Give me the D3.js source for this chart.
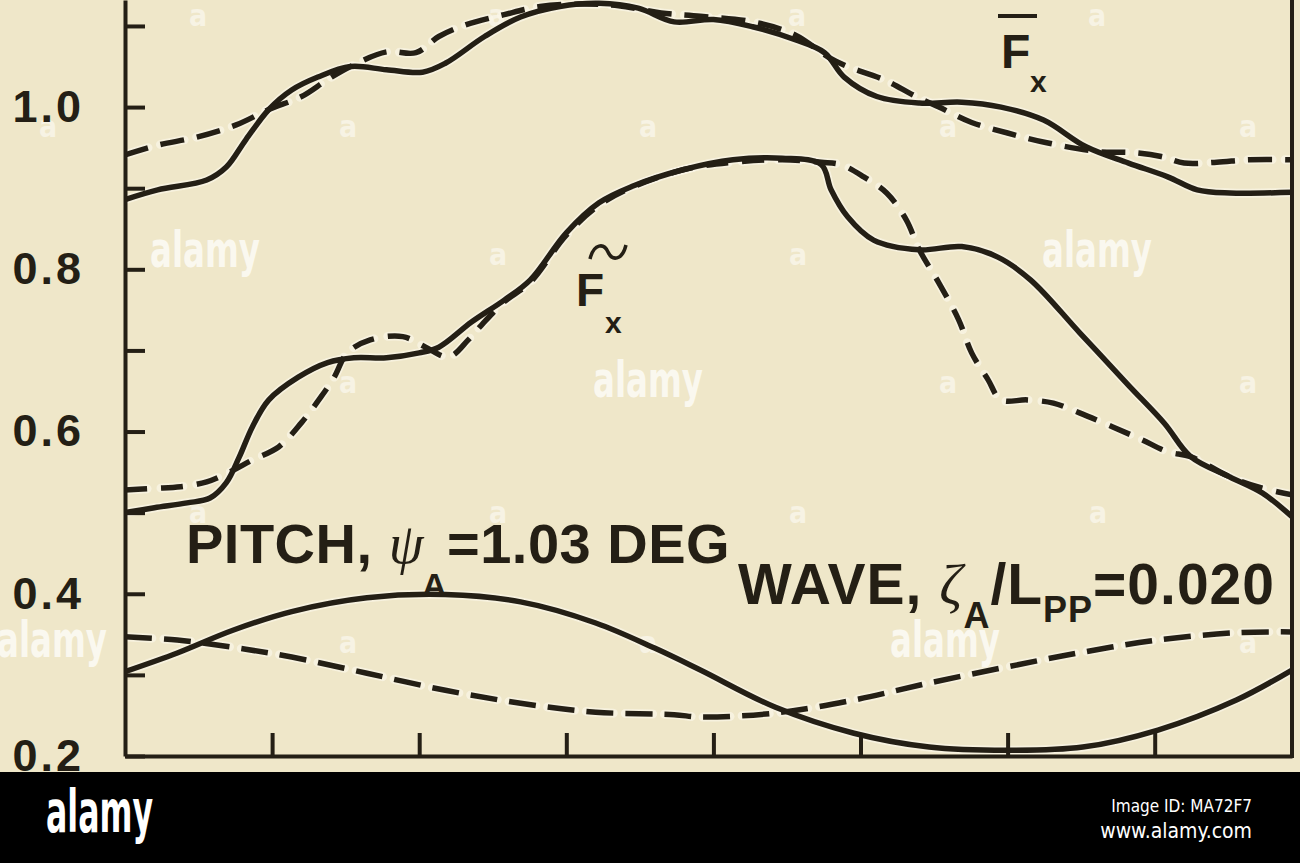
<!DOCTYPE html>
<html><head><meta charset="utf-8">
<script src="https://cdn.jsdelivr.net/npm/d3@7"></script>
<style>
html,body{margin:0;padding:0;background:#efe7c9;overflow:hidden}
svg{display:block}
</style></head><body>
<svg id="chart" width="1300" height="863"></svg>
<script>
// ---------------- DATA ----------------
// x: phase (deg), y: force ratio
const xTicks = [45, 90, 135, 180, 225, 270, 315];
const yTicks = [0.2, 0.3, 0.4, 0.5, 0.6, 0.7, 0.8, 0.9, 1.0, 1.1];
const yLabelTicks = [0.2, 0.4, 0.6, 0.8, 1.0];

const meanSolid = [[0,0.886],[10,0.898],[25,0.910],[31,0.926],[37,0.960],[44,0.997],[51,1.021],[59,1.037],[69,1.050],[80,1.046],[91,1.043],[98,1.054],[110,1.087],[121,1.111],[133,1.124],[145,1.128],[157,1.122],[168,1.105],[180,1.108],[192,1.099],[205,1.083],[214,1.067],[220,1.037],[230,1.013],[243,1.005],[256,1.006],[268,1.000],[281,0.984],[294,0.951],[307,0.931],[319,0.914],[328,0.898],[338,0.894],[357,0.895]];
const meanDashed = [[0,0.941],[10,0.953],[22,0.963],[34,0.978],[44,0.997],[54,1.013],[62,1.034],[69,1.050],[80,1.068],[89,1.067],[96,1.087],[104,1.101],[116,1.114],[127,1.124],[139,1.127],[151,1.125],[164,1.116],[176,1.112],[192,1.105],[205,1.089],[215,1.062],[221,1.050],[232,1.034],[242,1.013],[249,1.000],[259,0.981],[270,0.968],[282,0.956],[298,0.945],[308,0.944],[317,0.939],[324,0.931],[334,0.932],[344,0.935],[357,0.935]];
const ampSolid = [[0,0.500],[9,0.506],[19,0.512],[26,0.518],[31,0.537],[35,0.569],[39,0.606],[44,0.639],[53,0.667],[62,0.685],[70,0.691],[80,0.691],[90,0.697],[96,0.704],[106,0.735],[116,0.762],[124,0.787],[135,0.845],[145,0.882],[155,0.902],[171,0.923],[186,0.935],[201,0.937],[213,0.929],[216,0.898],[221,0.865],[229,0.836],[243,0.824],[256,0.828],[267,0.815],[277,0.787],[292,0.722],[307,0.657],[318,0.610],[326,0.569],[338,0.544],[348,0.524],[357,0.495]];
const ampDashed = [[0,0.528],[9,0.530],[17,0.532],[25,0.538],[32,0.550],[39,0.565],[47,0.581],[54,0.611],[60,0.643],[64,0.667],[68,0.697],[75,0.713],[85,0.717],[92,0.704],[99,0.692],[105,0.713],[109,0.731],[116,0.760],[124,0.784],[135,0.842],[145,0.879],[155,0.901],[171,0.923],[186,0.932],[201,0.935],[213,0.932],[219,0.929],[226,0.914],[233,0.894],[239,0.861],[243,0.824],[249,0.783],[255,0.738],[259,0.697],[264,0.664],[268,0.639],[276,0.639],[284,0.635],[292,0.623],[302,0.606],[311,0.590],[319,0.575],[326,0.569],[338,0.544],[348,0.530],[357,0.522]];
const pitch = [[0,0.304],[16,0.327],[33,0.355],[51,0.378],[74,0.395],[98,0.399],[121,0.390],[144,0.364],[162,0.333],[176,0.306],[199,0.260],[223,0.228],[246,0.211],[270,0.207],[293,0.211],[316,0.232],[340,0.269],[357,0.306]];
const wave = [[0,0.347],[16,0.343],[33,0.334],[51,0.322],[74,0.302],[98,0.281],[121,0.265],[144,0.254],[168,0.251],[176,0.248],[199,0.253],[223,0.269],[246,0.290],[270,0.310],[293,0.328],[316,0.343],[340,0.352],[357,0.353]];

const X_END = 357, Y_TOP = 1.132;

// ---------------- DRAW ----------------
const ink = "#241f15";
const svg = d3.select("#chart");
const x = d3.scaleLinear().domain([0, X_END]).range([125, 1292]);
const y = d3.scaleLinear().domain([0.2, Y_TOP]).range([756, 0]);

svg.append("rect").attr("width",1300).attr("height",863).attr("fill","#efe7c9");

svg.append("defs").append("clipPath").attr("id","plot")
  .append("rect").attr("x",x(0)).attr("y",0).attr("width",x(X_END)-x(0)).attr("height",y(0.2));

// watermarks (under the ink)
const narrow = "'Liberation Sans Narrow','DejaVu Sans Condensed',sans-serif";
const smallA = [[198,0],[497,0],[797,0],[1097,0],[48,127],[348,127],[648,127],[948,127],[1248,127],
  [498,255],[798,255],[348,383],[948,383],[1248,383],[198,513],[498,513],[798,513],[1098,513],
  [348,643],[648,643],[1248,643]];
svg.selectAll("text.wa").data(smallA).enter().append("text").attr("class","wa")
  .attr("x",d=>d[0]).attr("y",d=>Math.max(d[1]+10, 26)).attr("text-anchor","middle")
  .attr("font-family",narrow).attr("font-weight","bold").attr("font-size",30)
  .attr("fill","#ffffff").attr("fill-opacity",0.5).text("a");

const line = d3.line().x(d=>x(d[0])).y(d=>y(d[1])).curve(d3.curveCatmullRom.alpha(0.5));
const gL = svg.append("g").attr("clip-path","url(#plot)");
const series = [
  {d: meanSolid, dash: null},
  {d: meanDashed, dash: "24,13"},
  {d: ampSolid, dash: null},
  {d: ampDashed, dash: "22,14"},
  {d: pitch, dash: null},
  {d: wave, dash: "27,12"}
];
series.forEach(s=>{
  gL.append("path").attr("d", line(s.d)).attr("fill","none")
    .attr("stroke","#fbf7e8").attr("stroke-width",9).attr("stroke-opacity",0.7)
    .attr("stroke-dasharray", s.dash).attr("stroke-linecap","round");
});
series.forEach(s=>{
  gL.append("path").attr("d", line(s.d)).attr("fill","none")
    .attr("stroke",ink).attr("stroke-width",5.5)
    .attr("stroke-dasharray", s.dash).attr("stroke-linejoin","round");
});

// axes
const fmt = d3.format(".1f");
const isLabel = v => yLabelTicks.some(t => Math.abs(t - v) < 1e-6);
const gy = svg.append("g").attr("transform","translate(125,0)")
  .call(d3.axisLeft(y).tickValues(yTicks).tickSizeInner(-20).tickSizeOuter(0).tickPadding(41)
    .tickFormat(v => isLabel(v) ? fmt(v) : ""));
gy.selectAll("path,line").attr("stroke",ink).attr("stroke-width",4);
gy.selectAll("text").attr("fill",ink).attr("font-family","'Liberation Sans',Arial,sans-serif")
  .attr("font-weight","bold").attr("font-size",45).attr("letter-spacing",3);

const gx = svg.append("g").attr("transform","translate(0,756)")
  .call(d3.axisBottom(x).tickValues(xTicks).tickSizeInner(-23).tickSizeOuter(0).tickFormat(""));
gx.selectAll("path,line").attr("stroke",ink).attr("stroke-width",4);

svg.append("line").attr("x1",x(X_END)).attr("x2",x(X_END)).attr("y1",0).attr("y2",y(0.2)+2)
  .attr("stroke",ink).attr("stroke-width",4);

// big watermarks over the ink
const bigW = [[205,255],[648,385],[1097,255],[52,645],[945,645]];
svg.selectAll("text.wb").data(bigW).enter().append("text").attr("class","wb")
  .attr("x",d=>d[0]-55).attr("y",d=>d[1]+12)
  .attr("font-family",narrow).attr("font-weight","bold").attr("font-size",50)
  .attr("textLength",110).attr("lengthAdjust","spacingAndGlyphs")
  .attr("fill","#ffffff").attr("fill-opacity",0.72).text("alamy");

// labels
const sans = "'Liberation Sans',Arial,Helvetica,sans-serif";
const t1 = svg.append("text").attr("x",186).attr("y",563).attr("fill",ink)
  .attr("font-family",sans).attr("font-weight","bold").attr("font-size",56).attr("letter-spacing",0.5);
t1.append("tspan").text("PITCH, ");
t1.append("tspan").attr("font-family","'Liberation Serif',serif").attr("font-style","italic").attr("font-weight","normal").text("ψ");
t1.append("tspan").attr("font-size",34).attr("dy",34).attr("dx",-2).text("A");
t1.append("tspan").attr("dy",-34).text("=1.03 DEG");

const t2 = svg.append("text").attr("x",738).attr("y",604).attr("fill",ink)
  .attr("font-family",sans).attr("font-weight","bold").attr("font-size",57).attr("letter-spacing",1);
t2.append("tspan").text("WAVE, ");
t2.append("tspan").attr("font-family","'Liberation Serif',serif").attr("font-style","italic").attr("font-weight","normal").text("ζ");
t2.append("tspan").attr("font-size",36).attr("dy",24).text("A");
t2.append("tspan").attr("dy",-24).text("/L");
t2.append("tspan").attr("font-size",36).attr("dy",18).text("PP");
t2.append("tspan").attr("dy",-18).text("=0.020");

// F-bar x
svg.append("text").attr("x",1001).attr("y",68).attr("fill",ink).attr("font-family",sans)
  .attr("font-weight","bold").attr("font-size",48).text("F");
svg.append("line").attr("x1",998).attr("x2",1037).attr("y1",16).attr("y2",16).attr("stroke",ink).attr("stroke-width",4);
svg.append("text").attr("x",1030).attr("y",92).attr("fill",ink).attr("font-family",sans)
  .attr("font-weight","bold").attr("font-size",30).text("x");

// F-tilde x
svg.append("text").attr("x",576).attr("y",306).attr("fill",ink).attr("font-family",sans)
  .attr("font-weight","bold").attr("font-size",46).text("F");
svg.append("path").attr("d","M590,259 C594,243 604,243 608,252 C612,261 622,261 626,245")
  .attr("fill","none").attr("stroke",ink).attr("stroke-width",3.5);
svg.append("text").attr("x",605).attr("y",333).attr("fill",ink).attr("font-family",sans)
  .attr("font-weight","bold").attr("font-size",30).text("x");

// bottom band
svg.append("rect").attr("x",0).attr("y",772).attr("width",1300).attr("height",91).attr("fill","#000");
svg.append("text").attr("x",46).attr("y",832).attr("fill","#fff").attr("font-family",narrow)
  .attr("font-weight","bold").attr("font-size",58)
  .attr("textLength",107).attr("lengthAdjust","spacingAndGlyphs").text("alamy");
svg.append("text").attr("x",1252).attr("y",812).attr("text-anchor","end").attr("fill","#fff")
  .attr("font-family",narrow).attr("font-size",17).text("Image ID: MA72F7");
svg.append("text").attr("x",1252).attr("y",838).attr("text-anchor","end").attr("fill","#fff")
  .attr("font-family",narrow).attr("font-size",21).text("www.alamy.com");
</script>
</body></html>
